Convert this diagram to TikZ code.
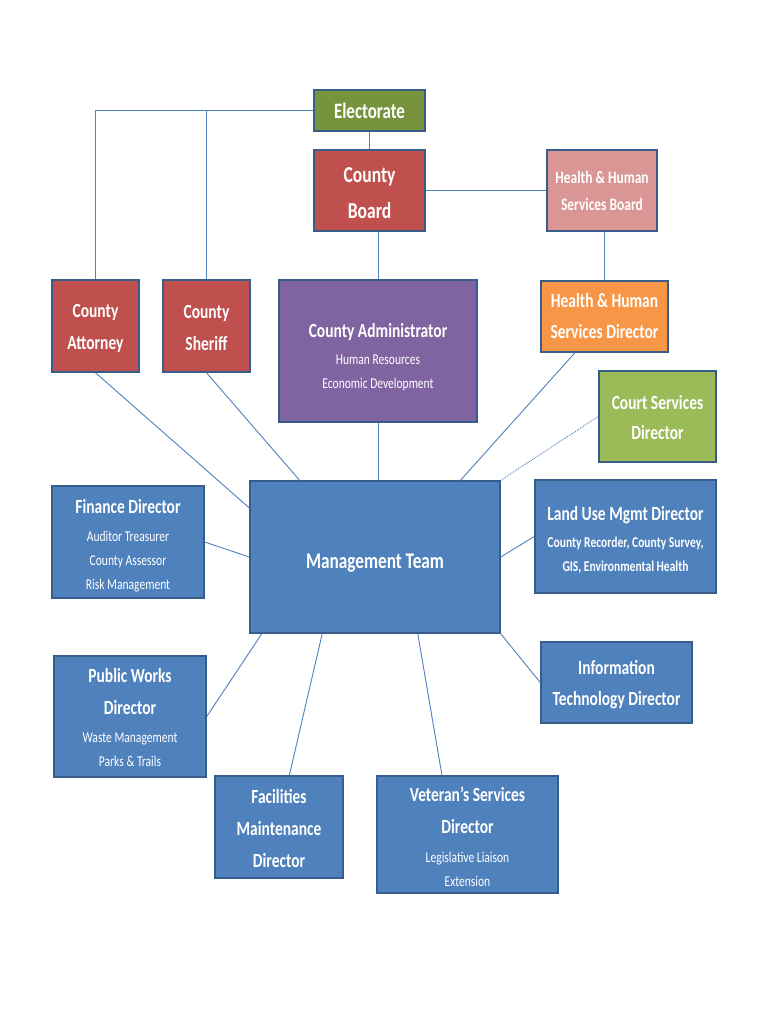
\documentclass[tikz,border=0pt]{standalone}
\usepackage{fontspec}
\setmainfont{Carlito}[FakeStretch=0.77]
\usetikzlibrary{calc}
\definecolor{bordc}{HTML}{385D8A}
\definecolor{linec}{HTML}{4F81BD}
\definecolor{olive}{HTML}{77933C}
\definecolor{redc}{HTML}{C0504D}
\definecolor{pinkc}{HTML}{D99694}
\definecolor{purp}{HTML}{8064A2}
\definecolor{orng}{HTML}{F79646}
\definecolor{lgreen}{HTML}{9BBB59}
\definecolor{bluec}{HTML}{4F81BD}
\newcommand\subt{\fontsize{15}{24}\mdseries\selectfont}
\newcommand\subb{\fontsize{15}{24}\bfseries\selectfont}
\newcommand\dn[1]{\rule{0pt}{#1pt}}
\begin{document}
\begin{tikzpicture}[x=1pt,y=-1pt,
  box/.style={draw=bordc, line width=1.5pt, text=white, align=center, inner sep=0pt, anchor=center, font=\fontsize{20.1}{32}\bfseries\selectfont},
  conn/.style={draw=linec, line width=0.9pt}]
\useasboundingbox (0,0) rectangle (768,1024);
\fill[white] (0,0) rectangle (768,1024);

% top row
\node[box, fill=olive, minimum width=111pt, minimum height=41pt, font=\fontsize{22}{32}\bfseries\selectfont] (elect) at (369.5,110.5) {Electorate};
\node[box, fill=redc, minimum width=111pt, minimum height=81pt, font=\fontsize{22.8}{36}\bfseries\selectfont] (board) at (369.5,190.5) {\dn{20}County\\Board};
\node[box, fill=pinkc, minimum width=110pt, minimum height=81pt, font=\fontsize{17.5}{27}\bfseries\selectfont] (hhsb) at (602,190.5) {Health \& Human\\Services Board};

% second row
\node[box, fill=redc, minimum width=87pt, minimum height=92pt] (atty) at (95.5,326) {\dn{18}County\\Attorney};
\node[box, fill=redc, minimum width=87pt, minimum height=92pt] (sher) at (206.5,326) {\dn{18}County\\Sheriff};
\node[box, fill=purp, minimum width=198pt, minimum height=142pt] (adm) at (378,351) {\dn{27}County Administrator\\[-5pt]{\subt Human Resources}\\[-8pt]{\subt Economic Development}};
\node[box, fill=orng, minimum width=127pt, minimum height=71pt, font=\fontsize{20.1}{31}\bfseries\selectfont] (hhsd) at (604.5,316.5) {Health \& Human\\Services Director};
\node[box, fill=lgreen, minimum width=117pt, minimum height=91pt, font=\fontsize{20.1}{30}\bfseries\selectfont] (court) at (657.5,416.5) {\dn{16}Court Services\\Director};

% centre
\node[box, fill=bluec, minimum width=250pt, minimum height=152pt, font=\fontsize{22.4}{32}\bfseries\selectfont] (mt) at (375,557) {\dn{26}Management Team};
\node[box, fill=bluec, minimum width=152pt, minimum height=112pt] (fin) at (128,542) {\dn{22}Finance Director\\[-4pt]{\subt Auditor Treasurer}\\[-8pt]{\subt County Assessor}\\[-8pt]{\subt Risk Management}};
\node[box, fill=bluec, minimum width=181pt, minimum height=113pt] (land) at (625.5,536.5) {\dn{21}Land Use Mgmt Director\\[-5pt]{\subb County Recorder, County Survey,}\\[-8pt]{\subb GIS, Environmental Health}};

% bottom
\node[box, fill=bluec, minimum width=152pt, minimum height=121pt] (pw) at (130,716.5) {\dn{17}Public Works\\Director\\[-4pt]{\subt Waste Management}\\[-8pt]{\subt Parks \& Trails}};
\node[box, fill=bluec, minimum width=151pt, minimum height=81pt, font=\fontsize{20.1}{31}\bfseries\selectfont] (it) at (616.5,682.5) {\dn{18}Information\\Technology Director};
\node[box, fill=bluec, minimum width=128pt, minimum height=102pt] (fac) at (279,827) {\dn{17}Facilities\\Maintenance\\Director};
\node[box, fill=bluec, minimum width=181pt, minimum height=117pt] (vet) at (467.5,834.5) {\dn{19}Veteran’s Services\\Director\\[-3pt]{\subt Legislative Liaison}\\[-8pt]{\subt Extension}};

% connectors
\draw[conn] (elect.west) -| (atty.north);
\draw[conn] (sher.north) -- (sher.north |- elect.west);
\draw[conn] (elect.south) -- (board.north);
\draw[conn] (board.east) -- (hhsb.west);
\draw[conn] (adm.north) -- (adm.north |- board.south);
\draw[conn] (hhsd.north |- hhsb.south) -- (hhsd.north);
\draw[conn] (atty.south) -- ($(mt.north west)!0.18!(mt.south west)$);
\draw[conn] (sher.south) -- ($(mt.north west)!0.2!(mt.north east)$);
\draw[conn] (adm.south) -- (adm.south |- mt.north);
\draw[conn] ($(hhsd.south west)!0.27!(hhsd.south east)$) -- ($(mt.north west)!0.84!(mt.north east)$);
\draw[conn, densely dotted] (court.west) -- (mt.north east);
\draw[conn] (fin.east) -- (mt.west);
\draw[conn] (land.west) -- (mt.east);
\draw[conn] ($(mt.south west)!0.05!(mt.south east)$) -- (pw.east);
\draw[conn] ($(mt.south west)!0.29!(mt.south east)$) -- ($(fac.north west)!0.58!(fac.north east)$);
\draw[conn] ($(mt.south west)!0.67!(mt.south east)$) -- ($(vet.north west)!0.36!(vet.north east)$);
\draw[conn] (mt.south east) -- (it.west);
\end{tikzpicture}
\end{document}
